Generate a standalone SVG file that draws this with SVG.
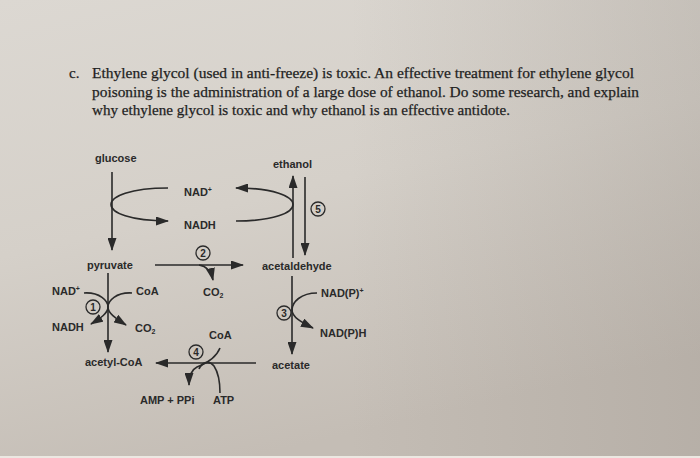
<svg xmlns="http://www.w3.org/2000/svg" width="700" height="458" viewBox="0 0 700 458">
<defs>
<linearGradient id="bg" x1="0" y1="0" x2="0.35" y2="1">
<stop offset="0" stop-color="#dcd8d2"/>
<stop offset="0.5" stop-color="#d5d0c9"/>
<stop offset="1" stop-color="#c4bdb5"/>
</linearGradient>
<linearGradient id="shade" x1="0" y1="0" x2="1" y2="0">
<stop offset="0.5" stop-color="#8f877f" stop-opacity="0"/>
<stop offset="1" stop-color="#8f877f" stop-opacity="0.25"/>
</linearGradient>
<marker id="ah" markerUnits="userSpaceOnUse" viewBox="0 0 13 9" refX="12" refY="4.5" markerWidth="13" markerHeight="9" orient="auto">
<path d="M0,0 L13,4.5 L0,9 z" fill="#2a2a2a"/>
</marker>
<style>
.p{font-family:"Liberation Serif","Times New Roman",serif;font-size:15px;fill:#1f1f1f;stroke:#1f1f1f;stroke-width:0.25}
.t{font-family:"Liberation Sans",Arial,sans-serif;font-size:11px;font-weight:bold;fill:#2a2a2a}
.n{font-family:"Liberation Sans",Arial,sans-serif;font-size:10px;font-weight:bold;fill:#2a2a2a;text-anchor:middle}
.c{fill:none;stroke:#2a2a2a;stroke-width:1.3}
.l{fill:none;stroke:#2a2a2a;stroke-width:1.6}
.a{marker-end:url(#ah)}
.sup{font-size:7px}
.sub{font-size:7px}
</style>
</defs>
<rect x="0" y="0" width="700" height="458" fill="url(#bg)"/>
<rect x="0" y="0" width="700" height="458" fill="url(#shade)"/>
<rect x="0" y="456" width="700" height="2" fill="#ece8e2"/>

<g id="question">
<text class="p" x="69" y="78">c.</text>
<text class="p" x="92" y="78" textLength="542" lengthAdjust="spacingAndGlyphs">Ethylene glycol (used in anti-freeze) is toxic.  An effective treatment for ethylene glycol</text>
<text class="p" x="92" y="97" textLength="547" lengthAdjust="spacingAndGlyphs">poisoning is the administration of a large dose of ethanol.  Do some research, and explain</text>
<text class="p" x="92" y="115" textLength="418" lengthAdjust="spacingAndGlyphs">why ethylene glycol is toxic and why ethanol is an effective antidote.</text>
</g>

<g id="connectors">
<path class="l a" d="M112,172 L112,250"/>
<path class="l a" d="M168,188 C92,188 92,221 168,221"/>
<path class="l a" d="M236,221 C312,221 312,188 236,188"/>
<path class="l a" d="M293,258 L293,176"/>
<path class="l a" d="M305,177 L305,255"/>
<path class="l a" d="M155,265 L243,265"/>
<path class="l a" d="M199,265 C206,266 211,271 213,280"/>
<path class="l a" d="M108,273 L108,352"/>
<path class="l a" d="M84,293 C100,292 108,301 108,307 C108,313 101,318 91,324"/>
<path class="l a" d="M132,293 C116,292 108,301 108,307 C108,313 115,318 126,325"/>
<path class="l a" d="M292,276 L292,354"/>
<path class="l a" d="M317,293 C301,293 292,302 292,310 C292,317 301,322 313,328"/>
<path class="l a" d="M256,363 L156,363"/>
<path class="l a" d="M220,348 C216,358 205,364 197,367 C191,370 189,376 189,385"/>
<path class="l" d="M199,369 C202,362 209,360 214,366 C218,372 220,382 220,393"/>
</g>

<g id="glucose"><text class="t" x="95" y="162">glucose</text></g>
<g id="ethanol"><text class="t" x="273" y="168">ethanol</text></g>
<g id="nad-top"><text class="t" x="184" y="196">NAD<tspan class="sup" dy="-4">+</tspan></text></g>
<g id="nadh-top"><text class="t" x="184" y="229">NADH</text></g>
<g id="pyruvate"><text class="t" x="87" y="269">pyruvate</text></g>
<g id="acetaldehyde"><text class="t" x="262" y="270">acetaldehyde</text></g>
<g id="nad-left"><text class="t" x="52" y="295">NAD<tspan class="sup" dy="-4">+</tspan></text></g>
<g id="coa-1"><text class="t" x="136" y="295">CoA</text></g>
<g id="co2-2"><text class="t" x="203" y="296">CO<tspan class="sub" dy="2">2</tspan></text></g>
<g id="nadp"><text class="t" x="321" y="297">NAD(P)<tspan class="sup" dy="-4">+</tspan></text></g>
<g id="nadh-left"><text class="t" x="52" y="331">NADH</text></g>
<g id="co2-1"><text class="t" x="135" y="332">CO<tspan class="sub" dy="2">2</tspan></text></g>
<g id="coa-4"><text class="t" x="209" y="339">CoA</text></g>
<g id="nadph"><text class="t" x="320" y="337">NAD(P)H</text></g>
<g id="acetyl-coa"><text class="t" x="85" y="366">acetyl-CoA</text></g>
<g id="acetate"><text class="t" x="272" y="369">acetate</text></g>
<g id="amp-ppi"><text class="t" x="140" y="404">AMP + PPi</text></g>
<g id="atp"><text class="t" x="213" y="404">ATP</text></g>

<g id="step1"><circle class="c" cx="93" cy="307" r="7"/><text class="n" x="93" y="311">1</text></g>
<g id="step2"><circle class="c" cx="203" cy="253" r="7"/><text class="n" x="203" y="257">2</text></g>
<g id="step3"><circle class="c" cx="284" cy="313" r="7"/><text class="n" x="284" y="317">3</text></g>
<g id="step4"><circle class="c" cx="196" cy="352" r="7"/><text class="n" x="196" y="356">4</text></g>
<g id="step5"><circle class="c" cx="318" cy="209" r="7"/><text class="n" x="318" y="213">5</text></g>
</svg>
